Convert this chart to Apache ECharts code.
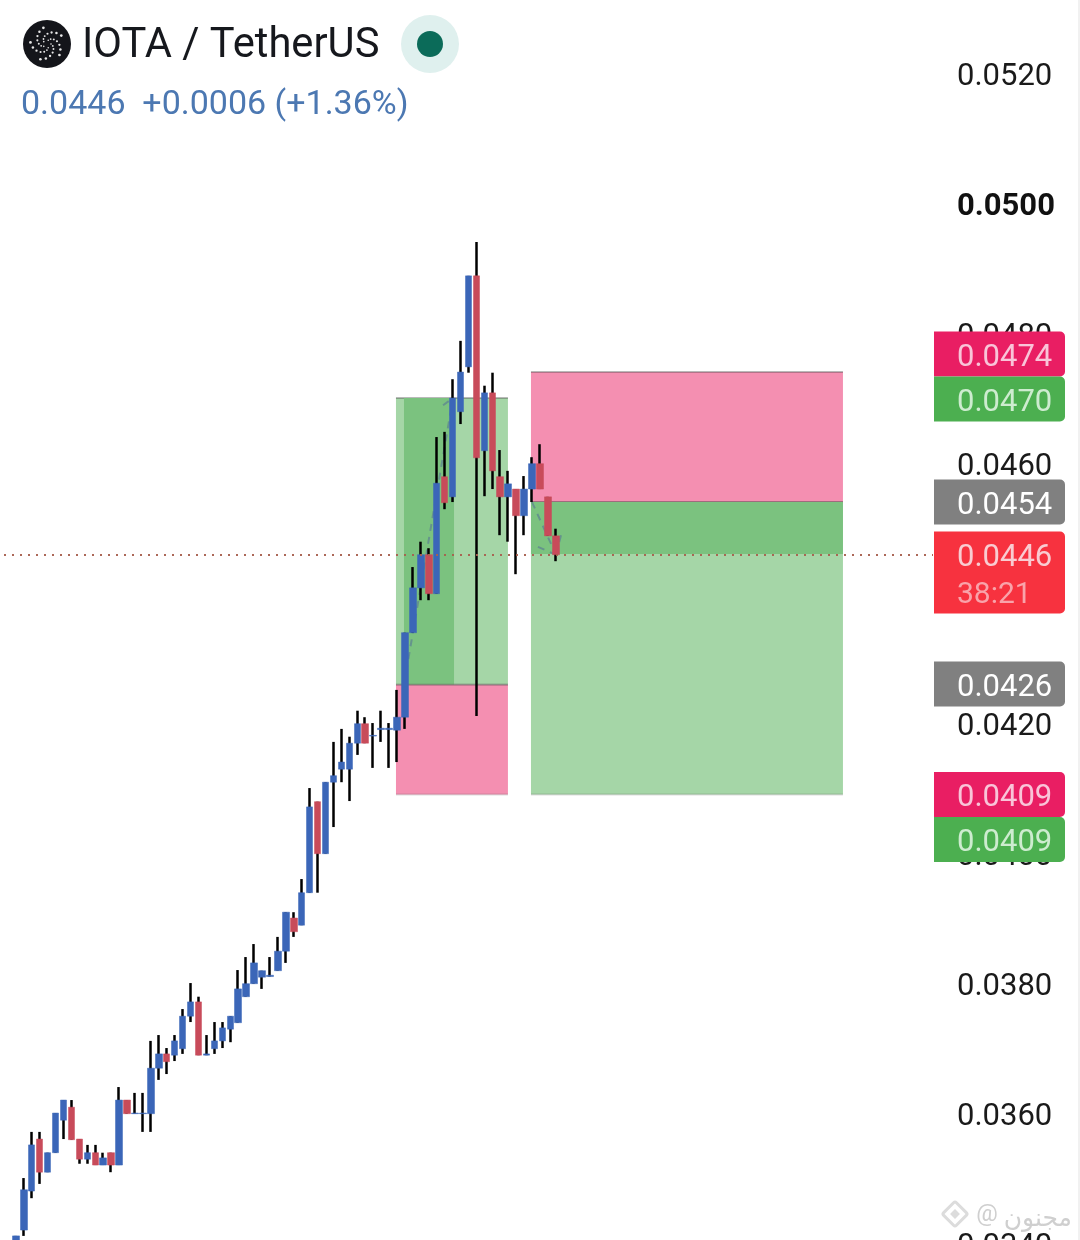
<!DOCTYPE html>
<html>
<head>
<meta charset="utf-8">
<style>html,body{margin:0;padding:0;background:#fff}#c{width:1080px;height:1240px}</style>
<script src="https://cdn.jsdelivr.net/npm/echarts@6/dist/echarts.min.js"></script>
</head>
<body>
<div id="c"></div>
<script>
// ---- candle values ----
const opens  = [0.03392,0.03423,0.03483,0.03563,0.03512,0.03542,0.03592,0.03612,0.03563,0.03532,0.03542,0.03523,0.03542,0.03523,0.03623,0.03602,0.03602,0.03602,0.03672,0.03694,0.03692,0.03702,0.03752,0.03774,0.03692,0.03702,0.03714,0.03732,0.03742,0.03782,0.03802,0.03812,0.03813,0.03822,0.03852,0.03903,0.03892,0.03942,0.04082,0.04002,0.04112,0.04132,0.04132,0.04172,0.04202,0.04183,0.04193,0.04193,0.04192,0.04212,0.04342,0.04411,0.04462,0.04402,0.04582,0.04551,0.04682,0.04751,0.04891,0.04622,0.04711,0.04582,0.04551,0.04563,0.04522,0.04563,0.04602,0.04551,0.04491];
const closes = [0.03414,0.03485,0.03554,0.03512,0.03542,0.03603,0.03623,0.03562,0.03532,0.03542,0.03523,0.03534,0.03523,0.03623,0.03602,0.03603,0.03603,0.03672,0.03694,0.03682,0.03714,0.03752,0.03774,0.03692,0.03694,0.03714,0.03734,0.03752,0.03794,0.03802,0.03834,0.03822,0.03815,0.03852,0.03912,0.03882,0.03942,0.04074,0.04002,0.04112,0.04122,0.04143,0.04172,0.04202,0.04172,0.04184,0.04195,0.04195,0.04212,0.04342,0.04411,0.04462,0.04402,0.04572,0.04542,0.04703,0.04743,0.04891,0.04611,0.04711,0.04591,0.04551,0.04571,0.04522,0.04563,0.04602,0.04563,0.04491,0.04462];
const lows   = [0.03385,0.03414,0.03472,0.03494,0.03512,0.03542,0.03563,0.03562,0.03525,0.03525,0.03523,0.03523,0.03512,0.03523,0.03602,0.03602,0.03574,0.03574,0.03654,0.03663,0.03683,0.03694,0.03743,0.03692,0.03692,0.03694,0.03703,0.03712,0.03742,0.03782,0.03802,0.03794,0.03813,0.03822,0.03834,0.03874,0.03892,0.03942,0.03942,0.04002,0.04043,0.04112,0.04083,0.04154,0.04172,0.04134,0.04174,0.04134,0.04143,0.04194,0.04342,0.04392,0.04392,0.04402,0.04532,0.04543,0.04663,0.04742,0.04214,0.04552,0.04563,0.04492,0.04482,0.04432,0.04492,0.04543,0.04563,0.04491,0.04452];
const highs  = [0.03414,0.03503,0.03574,0.03574,0.03542,0.03603,0.03623,0.03623,0.03563,0.03554,0.03554,0.03542,0.03542,0.03643,0.03623,0.03634,0.03634,0.03714,0.03723,0.03703,0.03723,0.03763,0.03803,0.03782,0.03723,0.03743,0.03743,0.03752,0.03823,0.03843,0.03863,0.03822,0.03843,0.03874,0.03912,0.03912,0.03963,0.04103,0.04082,0.04112,0.04174,0.04194,0.04182,0.04222,0.04212,0.04203,0.04222,0.04203,0.04254,0.04342,0.04443,0.04482,0.04472,0.04643,0.04651,0.04732,0.04791,0.04891,0.04943,0.04722,0.04742,0.04623,0.04591,0.04563,0.04583,0.04612,0.04632,0.04551,0.04502];

// position tool zones (axis slots on the hidden value axis, prices on the y axis)
const zoneStart  = [50.37,51.38,50.37,67.37,67.37,67.37];
const zoneEnd    = [64.47,57.68,64.47,106.66,106.66,106.66];
const zoneTop    = [0.04703,0.04703,0.04262,0.04743,0.04543,0.04543];
const zoneBottom = [0.04262,0.04262,0.04093,0.04543,0.04093,0.04463];
const zoneKind   = ['green','dark','pink','pink','green','dark'];

// dashed projection arrows (null = gap)
const arrowSlots  = [51.38,57.55,null,56.3,57.55,null,67.5,70.52,null,68.25,70.52,null,71.15,70.52];
const arrowPrices = [0.04262,0.04703,null,0.04692,0.04703,null,0.04543,0.04462,null,0.04474,0.04462,null,0.04492,0.04462];

// price tags on the right-hand scale
const tagPrices = [0.0474,0.0470,0.0454,0.0446,0.0426,0.0409,0.0409];
const tagLabels = ['0.0474','0.0470','0.0454','0.0446','0.0426','0.0409','0.0409'];
const tagKinds  = ['pink','green','grey','red','grey','pink','green'];
const countdown = '38:21';

const pairTitle = 'IOTA / TetherUS';
const quoteLine = '0.0446  +0.0006 (+1.36%)';
const watermark = 'مجنون';
const slotCount = 118, leadSlots = 2;

// ---- styling ----
const FONT = 'Roboto, sans-serif';
const zoneFill = {green:'#a5d6a7', dark:'#7bc27f', pink:'#f48fb1'};
const tagFill = {pink:'#e91e63', green:'#4caf50', grey:'#808080', red:'#f7323f'};
const tagText = {pink:'#f9c4d8', green:'#cdeccf', grey:'#ffffff', red:'#f9ccd1'};
const tagShift = [-18,1,0,0,0,0,45];

const categories = Array.from({length:slotCount},(_,k)=>String(k));
const wickData = opens.map((o,i)=>[i+leadSlots,o,closes[i],lows[i],highs[i]]);
const bodyData = opens.map((o,i)=>[i+leadSlots,o,closes[i],Math.min(o,closes[i]),Math.max(o,closes[i])]);

const zoneData = zoneStart.map((s,i)=>[s,zoneEnd[i],zoneTop[i],zoneBottom[i],zoneKind[i]]);
const arrowData = arrowSlots.map((x,i)=> x===null ? ['-','-'] : [x,arrowPrices[i]]);
const tagData = tagPrices.map((p,i)=>[0,p,tagLabels[i],tagKinds[i],tagShift[i]]);

// decorative logo dots
const logoDots = [];
for(let arm=0;arm<5;arm++){
  for(let s=0;s<7;s++){
    const a = arm*2*Math.PI/5 + s*0.33, r = 4+s*2.1;
    logoDots.push({type:'circle',shape:{cx:47+r*Math.cos(a),cy:44+r*Math.sin(a),r:0.8+s*0.09},style:{fill:'#e8e8e8'},silent:true});
  }
}

const chart = echarts.init(document.getElementById('c'),null,{renderer:'canvas',width:1080,height:1240});
chart.setOption({
  animation:false,
  backgroundColor:'#ffffff',
  title:[
    {text:pairTitle,left:77,top:21,textStyle:{fontFamily:FONT,fontSize:41.7,fontWeight:400,color:'#16181d'}},
    {text:quoteLine,left:16,top:83,textStyle:{fontFamily:FONT,fontSize:34,fontWeight:400,color:'#4c78b2'}}
  ],
  grid:{left:-4,top:-55,width:937,height:1300,containLabel:false,outerBoundsMode:'none'},
  xAxis:[
    {type:'category',data:categories,show:false,boundaryGap:true},
    {type:'value',min:0,max:slotCount,show:false}
  ],
  yAxis:{
    type:'value',position:'right',min:0.034,max:0.054,interval:0.002,
    axisLine:{show:false},axisTick:{show:false},splitLine:{show:false},
    axisLabel:{
      margin:24,align:'left',fontFamily:FONT,fontSize:31,color:'#1a1a1a',showMinLabel:true,showMaxLabel:true,
      padding:[5,0,0,0],
      formatter:v=>Math.abs(v-0.05)<1e-9?'{b|'+v.toFixed(4)+'}':v.toFixed(4),
      rich:{b:{fontFamily:FONT,fontSize:31,fontWeight:'bold',color:'#111'}}
    }
  },
  series:[
    {type:'custom',name:'Position zones',xAxisIndex:1,yAxisIndex:0,z:1,silent:true,
     data:zoneData,encode:{x:[0,1],y:[2,3]},
     renderItem(params,api){
       const a=api.coord([api.value(0),api.value(2)]), b=api.coord([api.value(1),api.value(3)]);
       const kind=zoneData[params.dataIndex][4];
       const kids=[{type:'rect',shape:{x:a[0],y:a[1],width:b[0]-a[0],height:b[1]-a[1]},style:{fill:zoneFill[kind]}}];
       if(kind!=='dark'){
         const edge={stroke:'rgba(70,70,70,0.38)',lineWidth:2};
         kids.push({type:'line',shape:{x1:a[0],y1:a[1],x2:b[0],y2:a[1]},style:edge});
         kids.push({type:'line',shape:{x1:a[0],y1:b[1],x2:b[0],y2:b[1]},style:{stroke:'rgba(70,70,70,0.18)',lineWidth:2}});
       }
       return {type:'group',children:kids};
     }},
    {type:'line',name:'Projection',xAxisIndex:1,yAxisIndex:0,z:2,symbol:'none',silent:true,connectNulls:false,
     data:arrowData,lineStyle:{type:[7,6],width:2,color:'#5d8490',opacity:0.75},
     markLine:{silent:true,symbol:'none',precision:5,label:{show:false},animation:false,
       lineStyle:{type:[2,6],width:2,color:'#a8604f',opacity:0.95},
       data:[{yAxis:closes[closes.length-1]}]}},
    {type:'candlestick',name:'Wicks',xAxisIndex:0,yAxisIndex:0,z:3,barWidth:1,silent:true,
     encode:{x:0,y:[1,2,3,4]},data:wickData,
     itemStyle:{color:'#000',color0:'#000',borderColor:'#000',borderColor0:'#000',borderColorDoji:'#000',borderWidth:2.5}},
    {type:'candlestick',name:'IOTA / TetherUS',xAxisIndex:0,yAxisIndex:0,z:4,barWidth:7,silent:true,
     encode:{x:0,y:[1,2,3,4]},data:bodyData,
     itemStyle:{color:'#3b66b8',color0:'#c84b5a',borderColor:'#3b66b8',borderColor0:'#c84b5a',borderColorDoji:'#3b66b8',borderWidth:0.5}},
    {type:'custom',name:'Price tags',xAxisIndex:1,yAxisIndex:0,z:10,silent:true,
     data:tagData,encode:{x:0,y:1},
     renderItem(params,api){
       const i=params.dataIndex, row=tagData[i];
       const rc=api.coord([0,api.value(1)])[1]+row[4];
       const x=params.coordSys.x+params.coordSys.width+1, w=131, isLive=row[3]==='red';
       const top=rc-24.5, h=isLive?82:45;
       const kids=[
         {type:'rect',shape:{x:x,y:top,width:w,height:h,r:[0,5,5,0]},style:{fill:tagFill[row[3]]}},
         {type:'text',style:{x:x+23,y:rc+2,text:row[2],fill:tagText[row[3]],font:'400 31px '+FONT,textAlign:'left',textVerticalAlign:'middle'}}
       ];
       if(isLive) kids.push({type:'text',style:{x:x+23,y:rc+39,text:countdown,fill:'#f9a3aa',font:'400 30px '+FONT,textAlign:'left',textVerticalAlign:'middle'}});
       return {type:'group',children:kids};
     }}
  ],
  graphic:[
    {type:'circle',shape:{cx:47,cy:44,r:24},style:{fill:'#14151a'},silent:true},
    ...logoDots,
    {type:'circle',shape:{cx:430,cy:44,r:29},style:{fill:'#dff0ee'},silent:true},
    {type:'circle',shape:{cx:430,cy:44,r:13},style:{fill:'#0b6b59'},silent:true},
    {type:'rect',shape:{x:1078,y:0,width:2,height:1240},style:{fill:'#f1f1f1'},silent:true},
    {type:'rect',x:955,y:1214,rotation:Math.PI/4,shape:{x:-9,y:-9,width:18,height:18,r:2},style:{fill:'none',stroke:'#dcdcdc',lineWidth:3},silent:true},
    {type:'rect',x:955,y:1214,rotation:Math.PI/4,shape:{x:-3.5,y:-3.5,width:7,height:7},style:{fill:'#dcdcdc'},silent:true},
    {type:'text',style:{x:987,y:1215,text:'@',fill:'#cfcfcf',font:'400 24px '+FONT,textAlign:'center',textVerticalAlign:'middle'},silent:true},
    {type:'text',style:{x:1072,y:1219,text:watermark,fill:'#cfcfcf',font:'400 25px "DejaVu Sans"',textAlign:'right',textVerticalAlign:'middle'},silent:true}
  ]
});
</script>
</body>
</html>
